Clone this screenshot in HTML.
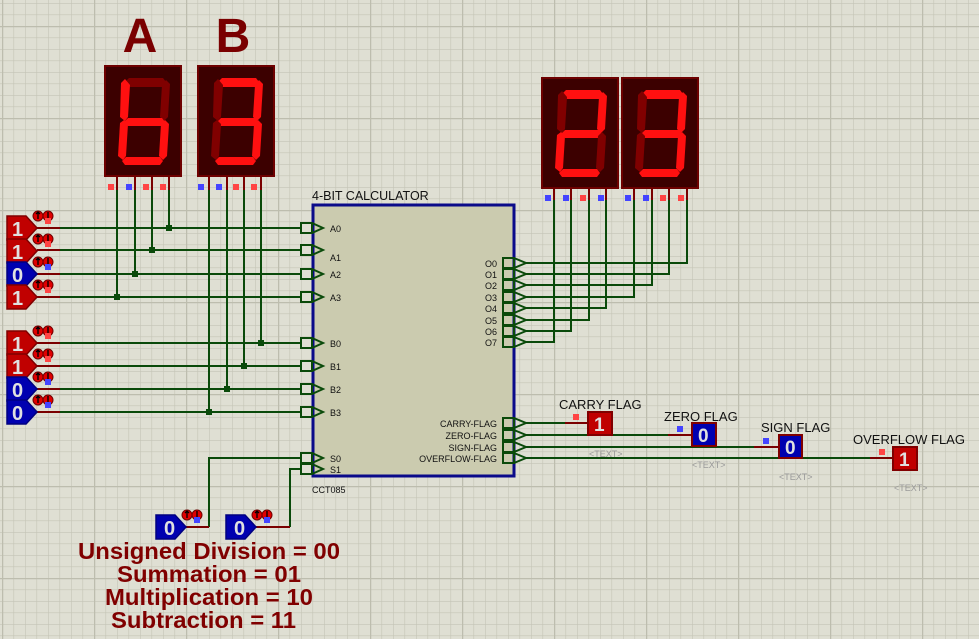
<!DOCTYPE html>
<html><head><meta charset="utf-8"><style>
html,body{margin:0;padding:0;background:#dfdfd3;}
svg{display:block;font-family:"Liberation Sans",Arial,sans-serif;}
</style></head><body>
<svg width="979" height="639" viewBox="0 0 979 639" xmlns="http://www.w3.org/2000/svg">
<defs>
<pattern id="minor" x="2" y="3" width="11.5" height="11.5" patternUnits="userSpaceOnUse">
<path d="M0 0H11.5M0 0V11.5" stroke="#c4c4b6" stroke-width="1.2" fill="none"/>
</pattern>
<pattern id="major" x="2" y="26" width="92" height="92" patternUnits="userSpaceOnUse">
<path d="M0 0H92M0 0V92" stroke="#bdbdae" stroke-width="2.5" fill="none"/>
</pattern>
<g id="sw"><path d="M0 0H19L30 12L19 24H0Z" stroke-width="1.5"/></g>
<g id="ic"><circle cx="31" cy="0" r="5" fill="#e00000" stroke="#700000"/><circle cx="41" cy="0" r="5" fill="#e00000" stroke="#700000"/><path d="M31 -4V3M29 -2L31 -4L33 -2M41 -4V3" stroke="#000" stroke-width="1.3" fill="none"/></g>
</defs>
<rect width="979" height="639" fill="#dfdfd3"/>
<rect width="979" height="639" fill="url(#minor)"/>
<rect width="979" height="639" fill="url(#major)"/>

<text x="140" y="52" font-size="48" font-weight="bold" fill="#7a0000" text-anchor="middle">A</text>
<text x="233" y="52" font-size="48" font-weight="bold" fill="#7a0000" text-anchor="middle">B</text>

<g stroke="#0a4a0a" stroke-width="2" fill="none">
<path d="M60 228H301M60 250H301M60 274H301M60 297H301M60 343H301M60 366H301M60 389H301M60 412H301"/>
<path d="M169 190V228M152 190V250M135 190V274M117 190V297M261 190V343M244 190V366M227 190V389M209 190V412"/>
<path d="M526 263H687V200M526 274H669V200M526 285H652V200M526 297H634V200M526 308H606V200M526 320H589V200M526 331H571V200M526 342H554V200"/>
<path d="M526 423H565M526 435H668M526 447H754M526 458H870"/>
<path d="M209 527V458H301M290 527V469H301"/>
</g>
<g stroke="#7a0000" stroke-width="2" fill="none">
<path d="M169 176V190M152 176V190M135 176V190M117 176V190M261 176V190M244 176V190M227 176V190M209 176V190"/>
<path d="M687 188V200M669 188V200M652 188V200M634 188V200M606 188V200M589 188V200M571 188V200M554 188V200"/>
<path d="M37 228H60M37 250H60M37 274H60M37 297H60M37 343H60M37 366H60M37 389H60M37 412H60"/>
<path d="M565 423H587M668 435H692M754 447H778M870 458H892M186 527H209M256 527H290"/>
</g>
<g fill="#0a4a0a">
<rect x="166" y="225" width="6" height="6"/><rect x="149" y="247" width="6" height="6"/><rect x="132" y="271" width="6" height="6"/><rect x="114" y="294" width="6" height="6"/>
<rect x="258" y="340" width="6" height="6"/><rect x="241" y="363" width="6" height="6"/><rect x="224" y="386" width="6" height="6"/><rect x="206" y="409" width="6" height="6"/>
</g>

<rect x="313" y="205" width="201" height="271" fill="#cbcbaf" stroke="#0a0a8a" stroke-width="3"/>
<text x="312" y="200" font-size="12.5" fill="#111">4-BIT CALCULATOR</text>
<text x="312" y="493" font-size="9" fill="#111">CCT085</text>
<g stroke="#0a4a0a" stroke-width="2" fill="none">
<g id="inp"><rect x="301" y="223" width="11" height="10"/><path d="M312 223L323 228L312 233"/></g>
<use href="#inp" y="22"/><use href="#inp" y="46"/><use href="#inp" y="69"/>
<use href="#inp" y="115"/><use href="#inp" y="138"/><use href="#inp" y="161"/><use href="#inp" y="184"/>
<use href="#inp" y="230"/><use href="#inp" y="241"/>
<g id="outp"><rect x="503" y="258" width="11" height="10"/><path d="M514 258L526 263L514 268"/></g>
<use href="#outp" y="11"/><use href="#outp" y="22"/><use href="#outp" y="34"/><use href="#outp" y="45"/><use href="#outp" y="57"/><use href="#outp" y="68"/><use href="#outp" y="79"/>
<use href="#outp" y="160"/><use href="#outp" y="172"/><use href="#outp" y="184"/><use href="#outp" y="195"/>
</g>
<g font-size="9" fill="#111">
<text x="330" y="232">A0</text><text x="330" y="261">A1</text><text x="330" y="278">A2</text><text x="330" y="301">A3</text>
<text x="330" y="347">B0</text><text x="330" y="370">B1</text><text x="330" y="393">B2</text><text x="330" y="416">B3</text>
<text x="330" y="462">S0</text><text x="330" y="473">S1</text>
</g>
<g font-size="9" fill="#111" text-anchor="end">
<text x="497" y="267">O0</text><text x="497" y="278">O1</text><text x="497" y="289">O2</text><text x="497" y="301">O3</text><text x="497" y="312">O4</text><text x="497" y="324">O5</text><text x="497" y="335">O6</text><text x="497" y="346">O7</text>
<text x="497" y="427">CARRY-FLAG</text><text x="497" y="439">ZERO-FLAG</text><text x="497" y="451">SIGN-FLAG</text><text x="497" y="462">OVERFLOW-FLAG</text>
</g>

<g transform="translate(105,66)">
<rect x="0" y="0" width="76" height="110" fill="#3c0000" stroke="#6e0000" stroke-width="2"/>
<polygon points="20,16 24,12 58,12 61,16 57,21 25,21" fill="#800000"/>
<polygon points="57,19 61,14 65,18 63,51 59,55 55,51" fill="#800000"/>
<polygon points="16,17 20,13 25,19 23,51 20,55 15,51" fill="#ff1010"/>
<polygon points="19,56 23,52 57,52 60,56 57,60 23,60" fill="#ff1010"/>
<polygon points="15,57 19,54 23,58 21,90 18,94 13,90" fill="#ff1010"/>
<polygon points="56,58 60,54 64,58 62,90 58,94 54,90" fill="#ff1010"/>
<polygon points="17,95 21,91 55,91 58,95 55,99 20,99" fill="#ff1010"/>
</g>
<g transform="translate(198,66)">
<rect x="0" y="0" width="76" height="110" fill="#3c0000" stroke="#6e0000" stroke-width="2"/>
<polygon points="20,16 24,12 58,12 61,16 57,21 25,21" fill="#ff1010"/>
<polygon points="57,19 61,14 65,18 63,51 59,55 55,51" fill="#ff1010"/>
<polygon points="16,17 20,13 25,19 23,51 20,55 15,51" fill="#800000"/>
<polygon points="19,56 23,52 57,52 60,56 57,60 23,60" fill="#ff1010"/>
<polygon points="15,57 19,54 23,58 21,90 18,94 13,90" fill="#800000"/>
<polygon points="56,58 60,54 64,58 62,90 58,94 54,90" fill="#ff1010"/>
<polygon points="17,95 21,91 55,91 58,95 55,99 20,99" fill="#ff1010"/>
</g>
<g transform="translate(542,78)">
<rect x="0" y="0" width="76" height="110" fill="#3c0000" stroke="#6e0000" stroke-width="2"/>
<polygon points="20,16 24,12 58,12 61,16 57,21 25,21" fill="#ff1010"/>
<polygon points="57,19 61,14 65,18 63,51 59,55 55,51" fill="#ff1010"/>
<polygon points="16,17 20,13 25,19 23,51 20,55 15,51" fill="#800000"/>
<polygon points="19,56 23,52 57,52 60,56 57,60 23,60" fill="#ff1010"/>
<polygon points="15,57 19,54 23,58 21,90 18,94 13,90" fill="#ff1010"/>
<polygon points="56,58 60,54 64,58 62,90 58,94 54,90" fill="#800000"/>
<polygon points="17,95 21,91 55,91 58,95 55,99 20,99" fill="#ff1010"/>
</g>
<g transform="translate(622,78)">
<rect x="0" y="0" width="76" height="110" fill="#3c0000" stroke="#6e0000" stroke-width="2"/>
<polygon points="20,16 24,12 58,12 61,16 57,21 25,21" fill="#ff1010"/>
<polygon points="57,19 61,14 65,18 63,51 59,55 55,51" fill="#ff1010"/>
<polygon points="16,17 20,13 25,19 23,51 20,55 15,51" fill="#800000"/>
<polygon points="19,56 23,52 57,52 60,56 57,60 23,60" fill="#ff1010"/>
<polygon points="15,57 19,54 23,58 21,90 18,94 13,90" fill="#800000"/>
<polygon points="56,58 60,54 64,58 62,90 58,94 54,90" fill="#ff1010"/>
<polygon points="17,95 21,91 55,91 58,95 55,99 20,99" fill="#ff1010"/>
</g>
<g>
<rect x="108" y="184" width="6" height="6" fill="#ff4444"/><rect x="126" y="184" width="6" height="6" fill="#4444ff"/><rect x="143" y="184" width="6" height="6" fill="#ff4444"/><rect x="160" y="184" width="6" height="6" fill="#ff4444"/>
<rect x="198" y="184" width="6" height="6" fill="#4444ff"/><rect x="216" y="184" width="6" height="6" fill="#4444ff"/><rect x="233" y="184" width="6" height="6" fill="#ff4444"/><rect x="251" y="184" width="6" height="6" fill="#ff4444"/>
<rect x="545" y="195" width="6" height="6" fill="#4444ff"/><rect x="563" y="195" width="6" height="6" fill="#4444ff"/><rect x="580" y="195" width="6" height="6" fill="#ff4444"/><rect x="598" y="195" width="6" height="6" fill="#4444ff"/>
<rect x="625" y="195" width="6" height="6" fill="#4444ff"/><rect x="643" y="195" width="6" height="6" fill="#4444ff"/><rect x="660" y="195" width="6" height="6" fill="#ff4444"/><rect x="678" y="195" width="6" height="6" fill="#ff4444"/>
</g>

<g font-size="20" font-weight="bold">
<g transform="translate(7,216)"><use href="#sw" fill="#c00000" stroke="#800000"/><use href="#ic"/><rect x="38" y="2" width="6" height="6" fill="#ff4444"/><text x="5" y="20" fill="#e0e0e0">1</text></g>
<g transform="translate(7,239)"><use href="#sw" fill="#c00000" stroke="#800000"/><use href="#ic"/><rect x="38" y="2" width="6" height="6" fill="#ff4444"/><text x="5" y="20" fill="#e0e0e0">1</text></g>
<g transform="translate(7,262)"><use href="#sw" fill="#0000b0" stroke="#000080"/><use href="#ic"/><rect x="38" y="2" width="6" height="6" fill="#4444ff"/><text x="5" y="20" fill="#e0e0e0">0</text></g>
<g transform="translate(7,285)"><use href="#sw" fill="#c00000" stroke="#800000"/><use href="#ic"/><rect x="38" y="2" width="6" height="6" fill="#ff4444"/><text x="5" y="20" fill="#e0e0e0">1</text></g>
<g transform="translate(7,331)"><use href="#sw" fill="#c00000" stroke="#800000"/><use href="#ic"/><rect x="38" y="2" width="6" height="6" fill="#ff4444"/><text x="5" y="20" fill="#e0e0e0">1</text></g>
<g transform="translate(7,354)"><use href="#sw" fill="#c00000" stroke="#800000"/><use href="#ic"/><rect x="38" y="2" width="6" height="6" fill="#ff4444"/><text x="5" y="20" fill="#e0e0e0">1</text></g>
<g transform="translate(7,377)"><use href="#sw" fill="#0000b0" stroke="#000080"/><use href="#ic"/><rect x="38" y="2" width="6" height="6" fill="#4444ff"/><text x="5" y="20" fill="#e0e0e0">0</text></g>
<g transform="translate(7,400)"><use href="#sw" fill="#0000b0" stroke="#000080"/><use href="#ic"/><rect x="38" y="2" width="6" height="6" fill="#4444ff"/><text x="5" y="20" fill="#e0e0e0">0</text></g>
<g transform="translate(156,515)"><use href="#sw" fill="#0000b0" stroke="#000080"/><use href="#ic"/><rect x="38" y="2" width="6" height="6" fill="#4444ff"/><text x="8" y="20" fill="#e0e0e0">0</text></g>
<g transform="translate(226,515)"><use href="#sw" fill="#0000b0" stroke="#000080"/><use href="#ic"/><rect x="38" y="2" width="6" height="6" fill="#4444ff"/><text x="8" y="20" fill="#e0e0e0">0</text></g>
</g>

<g font-size="19" font-weight="bold" fill="#e0e0e0">
<rect x="588" y="412" width="24" height="23" fill="#c00000" stroke="#800000" stroke-width="2"/><text x="594" y="431">1</text>
<rect x="692" y="423" width="24" height="23" fill="#0000b0" stroke="#800000" stroke-width="2"/><text x="698" y="442">0</text>
<rect x="779" y="435" width="23" height="23" fill="#0000b0" stroke="#800000" stroke-width="2"/><text x="785" y="454">0</text>
<rect x="893" y="447" width="24" height="23" fill="#c00000" stroke="#800000" stroke-width="2"/><text x="899" y="466">1</text>
</g>
<rect x="573" y="414" width="6" height="6" fill="#ff4444"/>
<rect x="677" y="426" width="6" height="6" fill="#4444ff"/>
<rect x="763" y="438" width="6" height="6" fill="#4444ff"/>
<rect x="879" y="449" width="6" height="6" fill="#ff4444"/>
<g font-size="13" fill="#111">
<text x="559" y="409">CARRY FLAG</text>
<text x="664" y="421">ZERO FLAG</text>
<text x="761" y="432">SIGN FLAG</text>
<text x="853" y="444">OVERFLOW FLAG</text>
</g>
<g font-size="9" fill="#999">
<text x="589" y="457">&lt;TEXT&gt;</text>
<text x="692" y="468">&lt;TEXT&gt;</text>
<text x="779" y="480">&lt;TEXT&gt;</text>
<text x="894" y="491">&lt;TEXT&gt;</text>
</g>

<g font-size="23" font-weight="bold" fill="#800000">
<text x="78" y="559" textLength="262" lengthAdjust="spacingAndGlyphs">Unsigned Division = 00</text>
<text x="117" y="582" textLength="184" lengthAdjust="spacingAndGlyphs">Summation = 01</text>
<text x="105" y="605" textLength="208" lengthAdjust="spacingAndGlyphs">Multiplication = 10</text>
<text x="111" y="628" textLength="185" lengthAdjust="spacingAndGlyphs">Subtraction = 11</text>
</g>
</svg>
</body></html>
